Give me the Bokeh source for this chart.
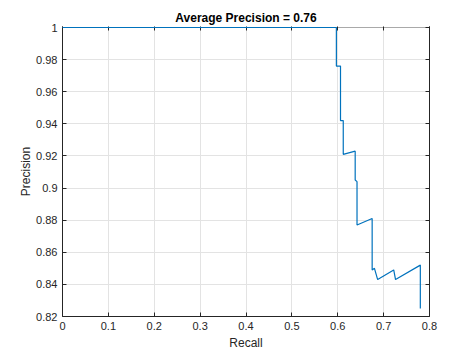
from bokeh.plotting import figure
from bokeh.models import LinearAxis, FixedTicker, Range1d, BoxAnnotation
from bokeh.embed import file_html
from bokeh.resources import INLINE

recall = [0.0, 0.597, 0.597, 0.606, 0.606, 0.612, 0.612, 0.638, 0.638, 0.642, 0.642,
          0.675, 0.675, 0.680, 0.687, 0.722, 0.726, 0.780, 0.780]
precision = [1.0, 1.0, 0.976, 0.976, 0.942, 0.942, 0.921, 0.923, 0.905, 0.904, 0.877,
             0.881, 0.849, 0.850, 0.843, 0.849, 0.843, 0.852, 0.825]

x_ticks = [0, 0.1, 0.2, 0.3, 0.4, 0.5, 0.6, 0.7, 0.8]
x_labels = ["0", "0.1", "0.2", "0.3", "0.4", "0.5", "0.6", "0.7", "0.8"]
y_ticks = [0.82, 0.84, 0.86, 0.88, 0.9, 0.92, 0.94, 0.96, 0.98, 1.0]
y_labels = ["0.82", "0.84", "0.86", "0.88", "0.9", "0.92", "0.94", "0.96", "0.98", "1"]

title_text = "Average Precision = 0.76"
FONT = "Liberation Sans"
DARK = "#262626"

X0, X1 = x_ticks[0], x_ticks[-1]
Y0, Y1 = y_ticks[0], y_ticks[-1]

# 1 px of head-room above 1.0 so the curve's top segment is not clipped
p = figure(width=474, height=355, output_backend="svg", toolbar_location=None,
           x_range=Range1d(X0, X1), y_range=Range1d(Y0, Y1 + 0.18 / 289),
           min_border_left=62, min_border_right=45, min_border_top=26, min_border_bottom=39)

p.title.text = title_text
p.title.align = "center"
p.title.text_font = FONT
p.title.text_font_size = "12px"
p.title.text_font_style = "bold"
p.title.text_color = "#000000"
p.title.standoff = 4

# axes box (MATLAB "box on"), drawn beneath the curve
p.add_layout(BoxAnnotation(left=X0, right=X1, bottom=Y0, top=Y1,
                           fill_alpha=0, line_color=DARK, line_width=1))

p.line(recall, precision, line_color="#0072BD", line_width=1.2, level="overlay")

p.xaxis.ticker = FixedTicker(ticks=x_ticks)
p.xaxis.major_label_overrides = {t: l for t, l in zip(x_ticks, x_labels)}
p.yaxis.ticker = FixedTicker(ticks=y_ticks)
p.yaxis.major_label_overrides = {t: l for t, l in zip(y_ticks, y_labels)}
p.xaxis.axis_label = "Recall"
p.yaxis.axis_label = "Precision"

for ax in [p.xaxis[0], p.yaxis[0]]:
    ax.major_tick_in = 4
    ax.major_tick_out = 0
    ax.minor_tick_in = 0
    ax.minor_tick_out = 0
    ax.axis_line_color = DARK
    ax.major_tick_line_color = DARK
    ax.major_label_text_color = DARK
    ax.major_label_text_font = FONT
    ax.major_label_text_font_size = "11px"
    ax.axis_label_text_font = FONT
    ax.axis_label_text_font_size = "12px"
    ax.axis_label_text_font_style = "normal"
    ax.axis_label_text_color = DARK
    ax.major_label_standoff = 5
p.xaxis.axis_label_standoff = 3
p.yaxis.axis_label_standoff = 0

for loc, tk in [("right", y_ticks), ("above", x_ticks)]:
    ax = LinearAxis(ticker=FixedTicker(ticks=tk))
    ax.major_label_text_font_size = "0px"
    ax.major_tick_in = 4
    ax.major_tick_out = 0
    ax.minor_tick_in = 0
    ax.minor_tick_out = 0
    ax.axis_line_color = DARK if loc == "right" else None
    ax.major_tick_line_color = DARK
    ax.major_label_standoff = 0
    p.add_layout(ax, loc)

p.xgrid.grid_line_color = "#e3e3e3"
p.ygrid.grid_line_color = "#e3e3e3"
p.xgrid.ticker = FixedTicker(ticks=x_ticks)
p.ygrid.ticker = FixedTicker(ticks=y_ticks)
p.outline_line_color = None
p.background_fill_color = "white"
p.border_fill_color = "white"

open("out.html", "w").write(file_html(p, INLINE))
